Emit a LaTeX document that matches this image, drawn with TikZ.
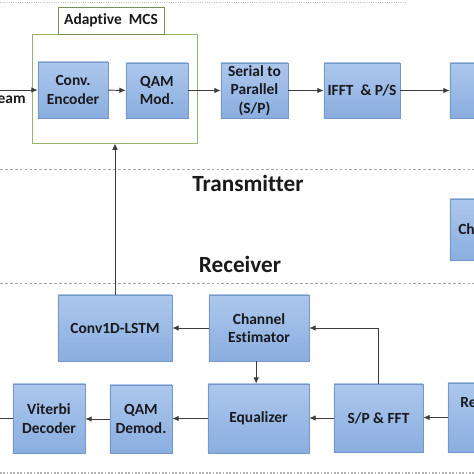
\documentclass[tikz,border=0pt]{standalone}
\usepackage{fontspec}
\setmainfont{Carlito}[Ligatures={NoCommon}]
\usetikzlibrary{arrows.meta}

\definecolor{boxtop}{RGB}{172,199,236}
\definecolor{boxbot}{RGB}{138,174,224}
\definecolor{boxline}{RGB}{118,150,200}
\definecolor{mcsline}{RGB}{150,180,110}
\definecolor{txt}{RGB}{25,25,30}
\definecolor{wire}{RGB}{60,60,60}

\begin{document}
\begin{tikzpicture}[x=0.025cm, y=-0.025cm,
    box/.style={rectangle, draw=boxline, top color=boxtop, bottom color=boxbot, inner sep=0pt,
        align=center, text=txt, font=\fontsize{11}{13}\selectfont\bfseries},
    lbl/.style={text=txt, inner sep=0pt, font=\fontsize{11}{13}\selectfont\bfseries},
    part/.style={text=txt, inner sep=0pt, font=\fontsize{16.5}{18}\selectfont\bfseries},
    wire/.style={draw=wire, line width=0.7pt, -{Latex[length=4.5pt,width=4pt]}}]

    \useasboundingbox (0,0) rectangle (474,474);

    % region borders
    \draw[gray!45, line width=0.6pt, densely dotted] (0,2) -- (407,2);
    \draw[gray!70, line width=0.5pt, dash pattern=on 2pt off 1.5pt] (0,169) -- (474,169);
    \draw[gray!70, line width=0.5pt, dash pattern=on 2pt off 1.5pt] (0,283) -- (474,283);
    \draw[gray!60, line width=1.4pt, dash pattern=on 1.2pt off 1.2pt] (0,473) -- (474,473);

    % transmitter
    \node[draw=mcsline, line width=0.6pt, minimum width=4.125cm, minimum height=2.725cm] (mcs) at (114.5,88.5) {};
    \node[draw=mcsline!80!black, line width=0.6pt, fill=white, lbl, minimum width=2.65cm, minimum height=0.675cm] (mcslbl) at (111,20.5) {Adaptive\ \ MCS};
    \node[box, minimum width=1.75cm, minimum height=1.4cm] (enc) at (73,90) {Conv.\\Encoder};
    \node[box, minimum width=1.55cm, minimum height=1.375cm] (qam) at (157,90.5) {QAM\\Mod.};
    \node[box, minimum width=1.675cm, minimum height=1.375cm] (sp) at (254.5,90.5) {Serial to\\Parallel\\(S/P)};
    \node[box, minimum width=1.9cm, minimum height=1.375cm] (ifft) at (362,90.5) {IFFT\ \ \& P/S};
    \node[box, minimum width=1.5cm, minimum height=1.375cm] (txout) at (480,90.5) {};
    \node[lbl, anchor=east] (inlbl) at (26,100) {eam};
    \coordinate (bitin) at (0,90);

    \node[part] (txlbl) at (248,183) {Transmitter};
    \node[part] (rxlbl) at (240,264) {Receiver};

    \node[box, minimum width=1.5cm, minimum height=1.525cm] (chan) at (480,229.5) {};
    \node[lbl, anchor=west] (chanlbl) at (458,229.5) {Ch};

    % receiver
    \node[box, minimum width=2.85cm, minimum height=1.65cm] (lstm) at (115,328) {Conv1D-LSTM};
    \node[box, minimum width=2.5cm, minimum height=1.65cm] (est) at (259,328) {Channel\\Estimator};
    \node[box, minimum width=1.8cm, minimum height=1.725cm] (vit) at (49,418.5) {Viterbi\\Decoder};
    \node[box, minimum width=1.55cm, minimum height=1.7cm] (dem) at (141,419) {QAM\\Demod.};
    \node[box, minimum width=2.525cm, minimum height=1.725cm] (eq) at (258.5,418.5) {Equalizer};
    \node[box, minimum width=2.225cm, minimum height=1.7cm] (fft) at (378.5,418) {S/P \& FFT};
    \node[box, minimum width=1.5cm, minimum height=1.725cm] (rx) at (478,417.5) {};
    \node[lbl, anchor=west] (rxlbl2) at (460,403) {Re};
    \coordinate (bitout) at (0,418.5);

    \draw[wire] (bitin) -- (enc.west);
    \draw[wire] (enc) -- (qam);
    \draw[wire] (qam.east) -- (sp.west);
    \draw[wire] (sp) -- (ifft);
    \draw[wire] (ifft) -- (txout);
    \draw[wire] (lstm.north) -- (lstm.north |- mcs.south);
    \draw[wire] (est) -- (lstm);
    \draw[wire] ([xshift=-2pt]est.south) -- ([xshift=-2pt]est.south |- eq.north);
    \draw[wire] (fft.north) |- (est.east);
    \draw[wire] (rx.west) -- (rx.west -| fft.east);
    \draw[wire] (fft.west) -- (fft.west -| eq.east);
    \draw[wire] (eq.west) -- (eq.west -| dem.east);
    \draw[wire] (dem.west) -- (dem.west -| vit.east);
    \draw[draw=wire, line width=0.7pt] (vit.west) -- (bitout);
\end{tikzpicture}
\end{document}
